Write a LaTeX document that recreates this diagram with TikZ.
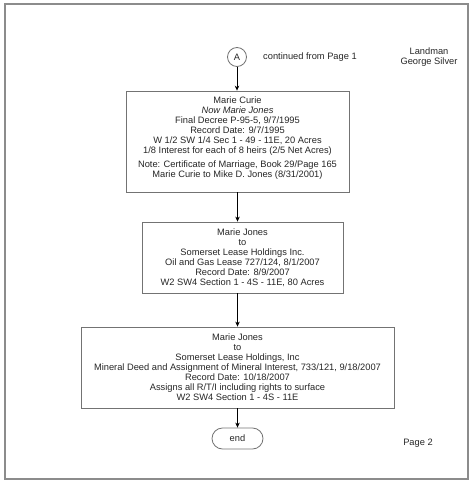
\documentclass[tikz,border=0pt]{standalone}
\usepackage{fontspec}
\setmainfont{Liberation Sans}
\usetikzlibrary{arrows.meta,shapes.misc}
\begin{document}
\begin{tikzpicture}[x=1pt,y=-1pt,
  every node/.style={font=\fontsize{9.3}{10}\selectfont, text=black!85},
  box/.style={draw=black!55, line width=0.8pt, fill=white, align=center, inner sep=0pt},
  conn/.style={draw=black, line width=0.7pt, -{Stealth[length=5pt,width=4.5pt]}},
  plain/.style={align=center, inner sep=0pt}]
\useasboundingbox (0,0) rectangle (474,484);
\draw[black!45, line width=1.6pt] (5,4) rectangle (468,479);

\node[circle, draw=black!55, line width=0.8pt, minimum size=19pt, inner sep=0pt] (A) at (237,57) {A};
\node[plain, anchor=west] (cont) at (263,57) {continued from Page 1};
\node[plain] (lm) at (429,57) {Landman\\George Silver};

\node[box, minimum width=223pt, minimum height=101pt] (b1) at (237.5,141.5)
 {Marie Curie\\ \textit{Now Marie Jones}\\ Final Decree P-95-5, 9/7/1995\\ Record Date: 9/7/1995\\
  W 1/2 SW 1/4 Sec 1 - 49 - 11E, 20 Acres\\ 1/8 Interest for each of 8 heirs (2/5 Net Acres)\\[4pt]
  Note: Certificate of Marriage, Book 29/Page 165\\ Marie Curie to Mike D. Jones (8/31/2001)\rule[-9pt]{0pt}{0pt}};

\node[box, minimum width=201pt, minimum height=71pt] (b2) at (242.5,257.5)
 {Marie Jones\\ to\\ Somerset Lease Holdings Inc.\\ Oil and Gas Lease 727/124, 8/1/2007\\
  Record Date: 8/9/2007\\ W2 SW4 Section 1 - 4S - 11E, 80 Acres};

\node[box, minimum width=313pt, minimum height=81pt] (b3) at (237.5,367.5)
 {Marie Jones\\ to\\ Somerset Lease Holdings, Inc\\
  Mineral Deed and Assignment of Mineral Interest, 733/121, 9/18/2007\\
  Record Date: 10/18/2007\\ Assigns all R/T/I including rights to surface\\ W2 SW4 Section 1 - 4S - 11E};

\node[rounded rectangle, draw=black!55, line width=0.8pt, minimum width=51pt, minimum height=21pt, inner sep=0pt] (end) at (237.5,438.5) {end};
\node[plain] (pg) at (418,443) {Page 2};

\draw[conn] (A.south) -- (A.south |- b1.north);
\draw[conn] (b1.south) -- (b1.south |- b2.north);
\draw[conn] (b1.south |- b2.south) -- (b1.south |- b3.north);
\draw[conn] (b3.south) -- (end.north);
\end{tikzpicture}
\end{document}
